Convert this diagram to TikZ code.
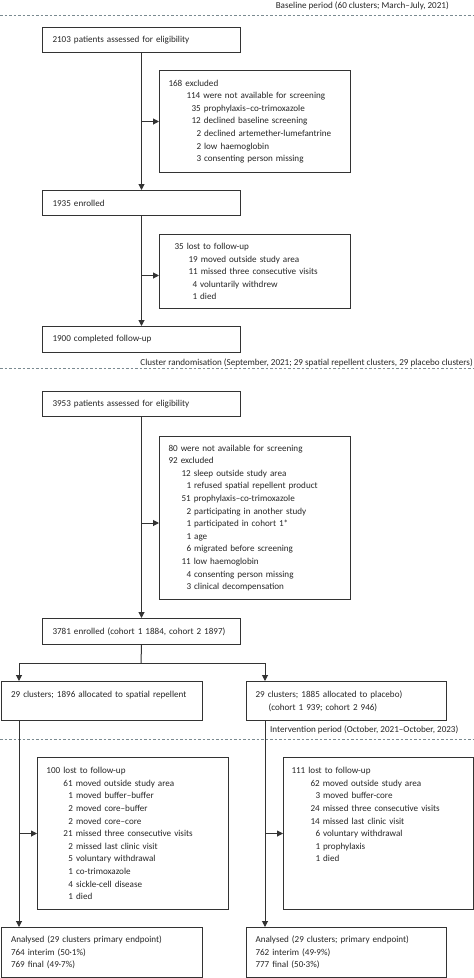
\documentclass[tikz,border=0pt]{standalone}
\usepackage{fontspec}
\setmainfont{Carlito}
\usetikzlibrary{arrows.meta,calc}
\definecolor{linec}{HTML}{333333}
\definecolor{textc}{HTML}{262626}
\definecolor{dashc}{HTML}{7A8A90}
\begin{document}
\begin{tikzpicture}[x=1pt,y=-1pt,
  box/.style={draw=linec, line width=1pt, rectangle, inner xsep=0pt, inner ysep=0pt,
    anchor=north west, align=left, text=textc, font=\fontsize{9.1}{12.6}\selectfont},
  conn/.style={draw=linec, line width=1pt},
  arr/.style={conn, -{Triangle[length=6pt,width=6pt]}},
  period/.style={inner sep=0pt, text=textc, font=\fontsize{9.1}{12.6}\selectfont},
  sep/.style={draw=dashc, line width=0.8pt, dash pattern=on 2.5pt off 2pt}]
\useasboundingbox (0,0) rectangle (474,978);
\newcommand\ind[1]{\hspace*{#1pt}}

% period labels and separators
\node[period, anchor=base east] (lbase) at (449,8) {Baseline period (60 clusters; March–July, 2021)};
\draw[sep] (0,15) -- (474,15);
\node[period, anchor=base east] (lrand) at (473,365) {Cluster randomisation (September, 2021; 29 spatial repellent clusters, 29 placebo clusters)};
\draw[sep] (0,368) -- (474,368);
\node[period, anchor=base west] (lint) at (270,732) {Intervention period (October, 2021–October, 2023)};
\draw[sep] (0,739) -- (474,739);

% baseline cohort
\node[box, text width=198pt, minimum height=25pt] (b1) at (42,27) {\ind{10}2103 patients assessed for eligibility};
\node[box, text width=191pt, minimum height=102pt] (ex1) at (159,70) {%
\ind{9}168 excluded\\
\ind{27}114 were not available for screening\\
\ind{32}35 prophylaxis–co-trimoxazole\\
\ind{32}12 declined baseline screening\\
\ind{37}2 declined artemether-lumefantrine\\
\ind{37}2 low haemoglobin\\
\ind{37}3 consenting person missing};
\node[box, text width=198pt, minimum height=25pt] (b2) at (42,190) {\ind{10}1935 enrolled};
\node[box, text width=191pt, minimum height=74pt] (ex2) at (159,234) {%
\ind{15}35 lost to follow-up\\
\ind{29}19 moved outside study area\\
\ind{29}11 missed three consecutive visits\\
\ind{33}4 voluntarily withdrew\\
\ind{33}1 died};
\node[box, text width=198pt, minimum height=26pt] (b3) at (42,326) {\ind{10}1900 completed follow-up};

\draw[arr] (b1.south) -- (b2.north);
\draw[arr] (b1.south |- ex1.west) -- (ex1.west);
\draw[arr] (b2.south) -- (b3.north);
\draw[arr] ([yshift=-4pt]b2.south |- ex2.west) -- ([yshift=-4pt]ex2.west);

% main cohort
\node[box, text width=198pt, minimum height=25pt] (c1) at (42,391) {\ind{10}3953 patients assessed for eligibility};
\node[box, text width=191pt, minimum height=163pt] (ex3) at (159,436) {%
\ind{9}80 were not available for screening\\
\ind{9}92 excluded\\
\ind{22}12 sleep outside study area\\
\ind{27}1 refused spatial repellent product\\
\ind{22}51 prophylaxis–co-trimoxazole\\
\ind{27}2 participating in another study\\
\ind{27}1 participated in cohort 1*\\
\ind{27}1 age\\
\ind{27}6 migrated before screening\\
\ind{22}11 low haemoglobin\\
\ind{27}4 consenting person missing\\
\ind{27}3 clinical decompensation};
\node[box, text width=198pt, minimum height=26pt] (c2) at (42,618) {\ind{10}3781 enrolled (cohort 1 1884, cohort 2 1897)};

\draw[arr] (c1.south) -- (c2.north);
\draw[arr] ([yshift=-5pt]c1.south |- ex3.west) -- ([yshift=-5pt]ex3.west);

% allocation
\node[box, text width=201pt, minimum height=39pt] (sr) at (0.5,681) {%
\ind{10}29 clusters; 1896 allocated to spatial repellent\\\mbox{}};
\node[box, text width=200pt, minimum height=39pt] (pl) at (246,681) {%
\ind{9}29 clusters; 1885 allocated to placebo)\\
\ind{22}(cohort 1 939; cohort 2 946)};

\coordinate (split) at (141,663);
\coordinate (lx) at (19,681);
\coordinate (rx) at (265,681);
\draw[conn] (c2.south) -- (split);
\draw[arr] (split) -| (lx);
\draw[arr] (split) -| (rx);

% follow-up
\node[box, text width=191pt, minimum height=152pt] (exL) at (37,757) {%
\ind{9}100 lost to follow-up\\
\ind{26}61 moved outside study area\\
\ind{31}1 moved buffer–buffer\\
\ind{31}2 moved core–buffer\\
\ind{31}2 moved core–core\\
\ind{26}21 missed three consecutive visits\\
\ind{31}2 missed last clinic visit\\
\ind{31}5 voluntary withdrawal\\
\ind{31}1 co-trimoxazole\\
\ind{31}4 sickle-cell disease\\
\ind{31}1 died};
\node[box, text width=190pt, minimum height=152pt] (exR) at (283,757) {%
\ind{8}111 lost to follow-up\\
\ind{27}62 moved outside study area\\
\ind{32}3 moved buffer-core\\
\ind{27}24 missed three consecutive visits\\
\ind{27}14 missed last clinic visit\\
\ind{32}6 voluntary withdrawal\\
\ind{32}1 prophylaxis\\
\ind{32}1 died\\\mbox{}\\\mbox{}\\\mbox{}};

\node[box, text width=201pt, minimum height=50pt] (anL) at (0.5,927) {%
\ind{10}Analysed (29 clusters primary endpoint)\\
\ind{10}764 interim (50·1\%)\\
\ind{10}769 final (49·7\%)};
\node[box, text width=200pt, minimum height=50pt] (anR) at (246,927) {%
\ind{9}Analysed (29 clusters; primary endpoint)\\
\ind{9}762 interim (49·9\%)\\
\ind{9}777 final (50·3\%)};

\draw[arr] (sr.south -| lx) -- (anL.north -| lx);
\draw[arr] (lx |- exL.west) -- (exL.west);
\draw[arr] (pl.south -| rx) -- (anR.north -| rx);
\draw[arr] (rx |- exR.west) -- (exR.west);
\end{tikzpicture}
\end{document}
